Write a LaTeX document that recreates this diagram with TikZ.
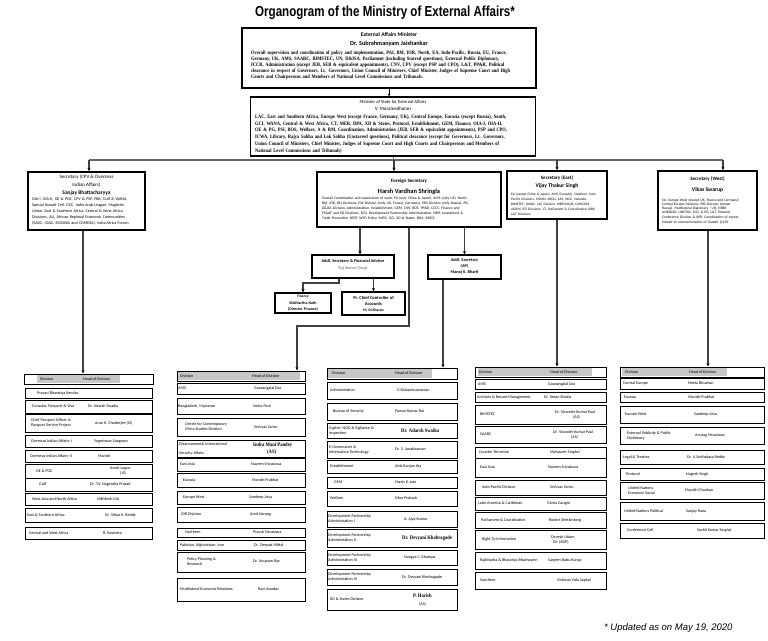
\documentclass[tikz,border=0pt]{standalone}
\usepackage{fontspec}
\setmainfont{Carlito}
\newfontfamily\titlefont[FakeStretch=0.8]{Liberation Sans}
\newfontfamily\notefont{Liberation Sans}
\newfontfamily\condserif[FakeStretch=0.86]{Liberation Serif}
\usetikzlibrary{arrows.meta,positioning}

% one justified line of a block of duties
\newcommand{\jl}[1]{\makebox[\linewidth][s]{#1}}
% bold serif names in the division tables
\newcommand{\bsf}[1]{{\condserif\bfseries\fontsize{5.4}{6}\selectfont #1}}

\tikzset{
  topbox/.style={draw=black, line width=1.1pt, fill=white},
  secbox/.style={draw=black, line width=1.6pt, fill=white},
  subbox/.style={draw=black, line width=1.2pt, fill=white},
  conn/.style={draw=black!75, line width=1.5pt, -{Stealth[black,length=3.4pt,width=3pt]}},
  bus/.style={draw=black!60, line width=2.6pt},
  rowbox/.style={draw=black, line width=1pt},
  hdgray/.style={fill=black!22},
  cell/.style={inner sep=0pt, align=left, font=\fontsize{4.1}{4.9}\selectfont},
  line/.style={inner sep=0pt, align=center},
  duties/.style={inner sep=0pt, align=left, anchor=north west},
}

\begin{document}
\begin{tikzpicture}[x=1pt,y=-1pt]
\useasboundingbox[fill=white] (0,0) rectangle (768,640);

\node[font=\titlefont\bfseries\fontsize{14.5}{16}\selectfont] (title) at (385,13) {Organogram of the Ministry of External Affairs*};

% ministers
\node[topbox, minimum width=294, minimum height=60] (eam) at (389,58) {};
\node[line, font=\bfseries\fontsize{5.6}{6}\selectfont] (eamtitle) at (389,35) {External Affairs Minister};
\node[line, font=\bfseries\fontsize{6.2}{7}\selectfont] (eamname) at (389,44) {Dr. Subrahmanyam Jaishankar};
\node[duties, text width=275, font=\condserif\bfseries\fontsize{5.2}{6.1}\selectfont] (eamwork) at (251,50.5) {%
\jl{Overall supervision and coordination of policy and implementation, PAI, BM, IOR, North, EA, Indo-Pacific, Russia, EU, France,}\\
\jl{Germany, UK, AMS, SAARC, BIMSTEC, UN, D\&ISA, Parliament (including Starred questions), External Public Diplomacy,}\\
\jl{ICCR, Administration (except JEB, SEB \& equivalent appointments), CNV, CPV (except PSP and CPO), L\&T, PP\&R, Political}\\
\jl{clearance in respect of Governors, Lt. Governors, Union Council of Ministers, Chief Minister, Judges of Supreme Court and High}\\
Courts and Chairpersons and Members of National Level Commissions and Tribunals.};

\node[topbox, minimum width=285, minimum height=59] (mos) at (393,126.5) {};
\node[line, font=\fontsize{4.6}{5}\selectfont] (mostitle) at (393,102) {Minister of State for External Affairs};
\node[line, font=\fontsize{5}{6}\selectfont] (mosname) at (393,109) {V. Muraleedharan};
\node[duties, text width=277, font=\condserif\bfseries\fontsize{5.2}{6.8}\selectfont] (moswork) at (255,114.5) {%
\jl{LAC, East and Southern Africa, Europe West (except France, Germany, UK), Central Europe, Eurasia (except Russia), South,}\\
\jl{GCI, WANA, Central \& West Africa, CT, MER, DPA, XD \& States, Protocol, Establishment, GEM, Finance, OIA-I, OIA-II,}\\
\jl{OE \& PG, PSI, BOS, Welfare, A \& RM, Coordination, Administration (JEB, SEB \& equivalent appointments), PSP and CPO,}\\
\jl{ICWA, Library, Rajya Sabha and Lok Sabha (Unstarred questions), Political clearance (except for Governors, Lt. Governors,}\\
\jl{Union Council of Ministers, Chief Minister, Judges of Supreme Court and High Courts and Chairpersons and Members of}\\
National Level Commissions and Tribunals)};

\draw[thin, -{Stealth[length=3pt,width=2.4pt]}] (eam.south) -- (eam.south |- mos.north);

% bus to the secretaries
\coordinate (busL) at (89,160);
\coordinate (busF) at (394,160);
\coordinate (busE) at (557,160);
\coordinate (busR) at (723,160);
\draw[black!60, line width=1pt] (mos.south) -- (mos.south |- busL);
\draw[bus] (busL) -- (busR);

% secretaries
\node[secbox, minimum width=117, minimum height=58] (cpv) at (86.5,201) {};
\node[line, font=\fontsize{5}{6}\selectfont] (cpvtitle) at (86.5,181) {Secretary (CPV \& Overseas\\[2pt]Indian Affairs)};
\node[line, font=\bfseries\fontsize{5.4}{6}\selectfont] (cpvname) at (86.5,193) {Sanjay Bhattacharyya};
\node[duties, text width=109, font=\fontsize{4.1}{6}\selectfont] (cpvwork) at (32,197) {%
\jl{OIA-I, OIA-II, OE \& PGE, CPV \& PSP, PBK, Gulf \& WANA,}\\
\jl{Special Kuwait Cell, GCC, India-Arab League, Maghreb}\\
\jl{Union, East \& Southern Africa, Central \& West Africa}\\
\jl{Divisions, AU, African Regional Economic Communities}\\
(SADC, IGAD, ECOWAS and COMESA), India-Africa Forum.};

\node[secbox, minimum width=184, minimum height=55] (fs) at (409,199.5) {};
\node[line, font=\bfseries\fontsize{5}{6}\selectfont] (fstitle) at (409,181) {Foreign Secretary};
\node[line, font=\bfseries\fontsize{6.4}{7}\selectfont] (fsname) at (409,192) {Harsh Vardhan Shringla};
\node[duties, text width=168, font=\fontsize{3.7}{5}\selectfont] (fswork) at (322,196.3) {%
\jl{Overall Coordination and supervision of work; EA (only China \& Japan), AMS (only US), North,}\\
\jl{BM, IOR, PAI Divisions, EW Division (only UK, France, Germany), ERS Division (only Russia), PIC,}\\
\jl{D\&ISA Division, Administration, Establishment, GEM, CNV, BOS, PP\&R, CCCS, Finance and}\\
\jl{FS\&AF and ED Divisions, ECD, Development Partnership Administration, MER, Investment \&}\\
Trade Promotion, NEST, WTO Policy, IMPD, GCI, XD \& States, IBSA, BRICS.};

\node[secbox, minimum width=100, minimum height=48] (east) at (557,195) {};
\node[line, font=\bfseries\fontsize{5}{6}\selectfont] (easttitle) at (557,178) {Secretary (East)};
\node[line, font=\bfseries\fontsize{5.6}{6}\selectfont] (eastname) at (557,186) {Vijay Thakur Singh};
\node[duties, text width=92, font=\fontsize{3.5}{5}\selectfont] (eastwork) at (511,192.5) {%
\jl{EA (except China \& Japan), AMS (Canada), Southern, Indo}\\
\jl{Pacific Divisions, ASEAN, ARDU, EAS, MGC, Nalanda,}\\
\jl{BIMSTEC, SAARC, LAC Division, MERCOSUR, CARICOM}\\
\jl{A\&RM, RTI Divisions, CT, Parliament \& Coordination, RBB,}\\
L\&T Divisions.};

\node[secbox, minimum width=99, minimum height=59] (west) at (707.5,200.5) {};
\node[line, font=\bfseries\fontsize{5}{6}\selectfont] (westtitle) at (707.5,179) {Secretary (West)};
\node[line, font=\bfseries\fontsize{5.6}{6}\selectfont] (westname) at (707.5,190) {Vikas Swarup};
\node[duties, text width=91, font=\fontsize{3.6}{4.2}\selectfont] (westwork) at (662,198.3) {%
\jl{EU, Europe West (except UK, France and Germany)}\\
\jl{Central Europe Divisions, ERS Division (except}\\
\jl{Russia), Multilateral Diplomacy - UN, NSBR,}\\
\jl{UNES\&SD, UNCTAD, SCO, \& EO, L\&T, Protocol,}\\[1pt]
\jl{Conference Division \& XPD, Coordination of events}\\
related to commemoration of Gandhi @150.};

\draw[conn] (busL) -- (busL |- cpv.north);
\draw[conn] (busF) -- (busF |- fs.north);
\draw[conn] (busE) -- (busE |- east.north);
\draw[conn] (busR) -- (busR |- west.north);

% under the foreign secretary
\node[subbox, minimum width=82, minimum height=23] (asfa) at (353,266.5) {};
\node[line, font=\bfseries\fontsize{4.3}{5}\selectfont] (asfatitle) at (353,261) {Addl. Secretary \& Financial Advisor};
\node[line, font=\fontsize{4.3}{5}\selectfont, text=black!60] (asfaname) at (353,268) {Raj Kumar Goyal};

\node[subbox, minimum width=73, minimum height=24] (ap) at (464.5,267) {};
\node[line, font=\bfseries\fontsize{4.3}{6}\selectfont] (aptext) at (464.5,266) {Addl. Secretary\\(AP)\\Manoj K. Bharti};

\node[subbox, minimum width=56, minimum height=20] (finance) at (303,303) {};
\node[line, font=\bfseries\fontsize{3.6}{6.5}\selectfont] (fintext) at (303,303.5) {Finance\\{\fontsize{4}{5}\selectfont Siddhartha Nath}\\{\fontsize{4}{5}\selectfont(Director Finance)}};

\node[subbox, minimum width=63, minimum height=23] (pcca) at (373.5,303.5) {};
\node[line, font=\bfseries\fontsize{4.5}{6}\selectfont] (pccatext) at (373.5,304) {Pr. Chief Controller of\\Accounts\\{\fontsize{3.8}{5}\selectfont M. Sridharan}};

\coordinate (finturn) at (303,283);
\draw[conn] ([xshift=7]asfa.north |- fs.south) -- ([xshift=7]asfa.north);
\draw[conn] (ap.north |- fs.south) -- (ap.north);
\draw[conn] ([xshift=-14]asfa.south) |- (finturn) -- (finance.north);
\draw[conn] (pcca.north |- asfa.south) -- (pcca.north);

% table heads
\fill[hdgray] (37,375) rectangle (120,383);
\node[rowbox, minimum width=129, minimum height=10, inner sep=0, anchor=north west] (t1h) at (24,374) {};
\node[cell, anchor=west] (t1hd) at (40,379) {Division};
\node[cell, anchor=west] (t1hh) at (83,379) {Head of Division};
\fill[hdgray] (178,372) rectangle (300,380);
\node[rowbox, minimum width=128, minimum height=10, inner sep=0, anchor=north west] (t2h) at (177,371) {};
\node[cell, anchor=west] (t2hd) at (180,376) {Division};
\node[cell, anchor=west] (t2hh) at (252,376) {Head of Division};
\fill[hdgray] (328,369) rectangle (432,378);
\node[rowbox, minimum width=130, minimum height=11, inner sep=0, anchor=north west] (t3h) at (327,368) {};
\node[cell, anchor=west] (t3hd) at (332,373.5) {Division};
\node[cell, anchor=west] (t3hh) at (395,373.5) {Head of Division};
\fill[hdgray] (478,368) rectangle (592,376);
\node[rowbox, minimum width=131, minimum height=10, inner sep=0, anchor=north west] (t4h) at (475,367) {};
\node[cell, anchor=west] (t4hd) at (479,372) {Division};
\node[cell, anchor=west] (t4hh) at (550,372) {Head of Division};
\fill[hdgray] (622,368) rectangle (727,376);
\node[rowbox, minimum width=144, minimum height=10, inner sep=0, anchor=north west] (t5h) at (620,367) {};
\node[cell, anchor=west] (t5hd) at (625,372) {Division};
\node[cell, anchor=west] (t5hh) at (689,372) {Head of Division};

% down to the tables
\coordinate (cpvdown) at (83,373.5);
\coordinate (fsturn) at (297,326);
\coordinate (fsdown) at (297,370.5);
\coordinate (apdown) at (443,367.5);
\coordinate (eastdown) at (557,366.5);
\coordinate (westdown) at (708,366.5);
\draw[conn] (cpv.south -| cpvdown) -- (cpvdown);
\draw[conn] (fs.south) |- (fsturn) -- (fsdown);
\draw[conn] (ap.south -| apdown) -- (apdown);
\draw[conn] (east.south -| eastdown) -- (eastdown);
\draw[conn] (west.south -| westdown) -- (westdown);

% division rows
\foreach \ya/\yb/\xd/\xh/\dv/\hd [count=\i] in {
  388/398/37/83/{Pravasi Bharatiya Kendra}/{},
  400/413/32/88/{Consular, Passport \& Visa}/{Dr. Adarsh Swaika},
  414/432/31/95/{Chief Passport Officer \&\\Passport Service Project}/{Arun K. Chatterjee (JS)},
  435/447/31/94/{Overseas Indian Affairs- I}/{Yogeshwar Sangwan},
  450/462/30/98/{Overseas Indian Affairs- II}/{Manish},
  464/478/36/110/{OE \& PGE}/{Amrit Lugun\\\hspace*{10pt}(JS)},
  478/491/39/90/{Gulf}/{Dr. T.V. Nagendra Prasad},
  493/505/32/97/{West Asia and North Africa}/{Nikhilesh Giri},
  508/522/27/105/{East \& Southern Africa}/{Dr. Srikar K. Reddy},
  527/539/29/103/{Central and West Africa}/{R. Ravindra}} {
  \draw[rowbox] (25,\ya) rectangle (152,\yb);
  \node[cell, anchor=west] (t1d\i) at (\xd,{(\ya+\yb)/2}) {\dv};
  \node[cell, anchor=west] (t1n\i) at (\xh,{(\ya+\yb)/2}) {\hd};
}

\foreach \ya/\yb/\xd/\xh/\dv/\hd [count=\i] in {
  383/394/178/254/{AMS}/{Gourangalal Das},
  398/414/178/253/{Bangladesh, Myanmar}/{Smita Pant},
  418/436/185/254/{Centre for Contemporary\\China Studies Division}/{Srinivas Gotru},
  440/457/179/253/{Disarmament\& International\\[4pt]Security Affairs}/{\bsf{Indra Mani Pandey}\\[1.5pt]\hspace*{14pt}\bsf{(AS)}},
  458/471/180/251/{East Asia}/{Naveen Srivastava},
  473/487/183/252/{Eurasia}/{Manish Prabhat},
  491/504/183/249/{Europe West}/{Sandeep Arya},
  507/522/181/250/{IOR Division}/{Amit Narang},
  528/537/185/253/{Northern}/{Piyush Srivastava},
  540/550/180/254/{Pakistan, Afghanistan, Iran}/{Dr. Deepak Mittal},
  552/572/187/253/{Policy Planning \&\\Research}/{Dr. Anupam Ray},
  578/601/180/258/{Multilateral Economic Relations}/{Ravi shankar}} {
  \draw[rowbox] (177,\ya) rectangle (305,\yb);
  \node[cell, anchor=west] (t2d\i) at (\xd,{(\ya+\yb)/2}) {\dv};
  \node[cell, anchor=west] (t2n\i) at (\xh,{(\ya+\yb)/2}) {\hd};
}

\foreach \ya/\yb/\xd/\xh/\dv/\hd [count=\i] in {
  382/399/330/397/{Administration}/{G Balasubramanian},
  403/420/333/395/{Bureau of Security}/{Pawan Kumar Rai},
  423/438/329/401/{Cypher, NGO \& Vigilance \&\\Inspection}/{\bsf{Dr. Adarsh Swaika}},
  441/458/329/395/{E-Governance \&\\Information Technology}/{Dr. S. Janakiraman},
  460/473/330/395/{Establishment}/{Alok Ranjan Jha},
  477/488/334/395/{GEM}/{Harsh K. Jain},
  491/506/330/395/{Welfare}/{Ohm Prakash},
  511/527/328/404/{Development Partnership\\Administration I}/{A. Ajay Kumar},
  529/547/328/402/{Development Partnership\\Administration II}/{\bsf{Dr. Devyani Khobragade}},
  550/565/328/404/{Development Partnership\\Administration III}/{Nangya C. Khampa},
  569/585/328/402/{Development Partnership\\Administration IV}/{Dr. Devyani Khobragade},
  589/610/330/413/{XD \& States Division}/{\bsf{P. Harish}\\[3pt]\hspace*{6pt}(AS)}} {
  \draw[rowbox] (327,\ya) rectangle (457,\yb);
  \node[cell, anchor=west] (t3d\i) at (\xd,{(\ya+\yb)/2}) {\dv};
  \node[cell, anchor=west] (t3n\i) at (\xh,{(\ya+\yb)/2}) {\hd};
}

\foreach \ya/\yb/\xd/\xh/\dv/\hd [count=\i] in {
  379/389/478/548/{AMS}/{Gourangalal Das},
  392/402/477/544/{Archives \& Record Management}/{Dr. Ketan Shukla},
  405/424/480/555/{BIMSTEC}/{Dr. Virander Kumar Paul\\\hspace*{18pt}(AS)},
  426/443/480/553/{SAARC}/{Dr. Virander Kumar Paul\\\hspace*{18pt}(AS)},
  447/458/479/550/{Counter Terrorism}/{Mahaveer Singhvi},
  458/477/480/548/{East Asia}/{Naveen Srivastava},
  480/495/482/550/{Indo-Pacific Division}/{Srinivas Gotru},
  497/510/478/547/{Latin America \& Caribbean}/{Gloria Gangte},
  512/528/481/549/{Parliament \& Coordination}/{Robert Shetkintong},
  530/549/482/551/{Right To Information}/{Devesh Uttam\\\hspace*{2pt}Dir (ADP)},
  552/569/480/548/{Rajbhasha \& Bharatiya Bhashayein}/{Sanjeev Babu Kurup},
  572/589/480/557/{Southern}/{Vishwas Vidu Sapkal}} {
  \draw[rowbox] (475,\ya) rectangle (606,\yb);
  \node[cell, anchor=west] (t4d\i) at (\xd,{(\ya+\yb)/2}) {\dv};
  \node[cell, anchor=west] (t4n\i) at (\xh,{(\ya+\yb)/2}) {\hd};
}

\foreach \ya/\yb/\xd/\xh/\dv/\hd [count=\i] in {
  378/389/623/688/{Central Europe}/{Neeta Bhushan},
  392/402/624/688/{Eurasia}/{Manish Prabhat},
  406/423/625/694/{Europe West}/{Sandeep Arya},
  427/444/627/695/{External Publicity \& Public\\Diplomacy}/{Anurag Srivastava},
  450/464/623/687/{Legal \& Treaties}/{Dr. A Sudhakara Reddy},
  468/480/626/686/{Protocol}/{Nagesh Singh},
  482/499/628/685/{United Nations\\Economic Social}/{Manish Chauhan},
  502/520/624/686/{United Nations Political}/{Sanjay Rana},
  523/538/627/697/{Conference Cell}/{Sushil Kumar Singhal}} {
  \draw[rowbox] (620,\ya) rectangle (764,\yb);
  \node[cell, anchor=west] (t5d\i) at (\xd,{(\ya+\yb)/2}) {\dv};
  \node[cell, anchor=west] (t5n\i) at (\xh,{(\ya+\yb)/2}) {\hd};
}

\node[font=\notefont\itshape\fontsize{9.5}{11}\selectfont, anchor=east] (note) at (736,628) {* Updated as on May 19, 2020};
\end{tikzpicture}
\end{document}
